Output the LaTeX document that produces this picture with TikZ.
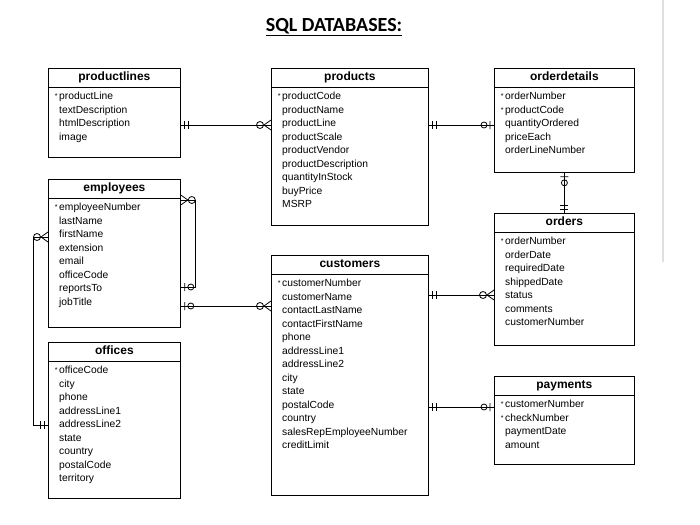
\documentclass[tikz,border=0pt]{standalone}
\usepackage{fontspec}
\setmainfont{Liberation Sans}
\newfontfamily\titlefont{Carlito}
\newcommand\pk{\llap{\raisebox{1pt}{\scriptsize*}\,}}
\tikzset{
 box/.style={draw, line width=0.8pt, inner sep=0pt},
 head/.style={font=\bfseries\fontsize{12}{13}\selectfont, inner sep=0pt},
 fields/.style={font=\fontsize{10.3}{13.5}\selectfont, align=left, inner sep=0pt},
 conn/.style={line width=0.8pt}
}
\newcommand\entity[7]{%
 \node[box, minimum width=#4pt, minimum height=#5pt, anchor=north west] (#1) at (#2,#3) {};
 \node[head, anchor=north] (#1h) at ([yshift=-4pt]#1.north) {#6};
 \draw[line width=0.8pt] ([yshift=-19pt]#1.north west) -- ([yshift=-19pt]#1.north east);
 \node[fields, anchor=north west] (#1f) at ([xshift=11pt,yshift=-24pt]#1.north west) {#7};
}
\newcommand\symOne[2]{\draw[conn,shift={(#1)},rotate=#2] (4,-4)--(4,4) (8,-4)--(8,4);}
\newcommand\symZO[2]{\draw[conn,shift={(#1)},rotate=#2] (4,-4)--(4,4) (10,0) circle (3pt);}
\newcommand\symMany[2]{\draw[conn,shift={(#1)},rotate=#2] (0,-5)--(7,0)--(0,5) (11,0) circle (3.5pt);}
\begin{document}
\begin{tikzpicture}[x=1pt,y=-1pt]
\useasboundingbox (0,0) rectangle (700,524);
\fill[white] (0,0) rectangle (700,524);
\draw[gray!25, line width=1.5pt] (663,0) -- (663,262);
\node[font=\titlefont\bfseries\fontsize{20}{22}\selectfont, inner sep=0pt] (title) at (334,27) {\underline{SQL DATABASES:}};

\entity{pl}{48}{68}{132}{89}{productlines}{\pk productLine\\textDescription\\htmlDescription\\image}
\entity{pr}{271}{68}{157}{157}{products}{\pk productCode\\productName\\productLine\\productScale\\productVendor\\productDescription\\quantityInStock\\buyPrice\\MSRP}
\entity{od}{494}{68}{140}{104}{orderdetails}{\pk orderNumber\\\pk productCode\\quantityOrdered\\priceEach\\orderLineNumber}
\entity{em}{48}{179}{132}{148}{employees}{\pk employeeNumber\\lastName\\firstName\\extension\\email\\officeCode\\reportsTo\\jobTitle}
\entity{or}{494}{213}{140}{132}{orders}{\pk orderNumber\\orderDate\\requiredDate\\shippedDate\\status\\comments\\customerNumber}
\entity{cu}{271}{255}{157}{240}{customers}{\pk customerNumber\\customerName\\contactLastName\\contactFirstName\\phone\\addressLine1\\addressLine2\\city\\state\\postalCode\\country\\salesRepEmployeeNumber\\creditLimit}
\entity{of}{48}{342}{132}{156}{offices}{\pk officeCode\\city\\phone\\addressLine1\\addressLine2\\state\\country\\postalCode\\territory}
\entity{pa}{494}{376}{140}{88}{payments}{\pk customerNumber\\\pk checkNumber\\paymentDate\\amount}

% connectors
\coordinate (c1a) at (pl.east |- 0,125); \coordinate (c1b) at (pr.west |- 0,125);
\draw[conn] (c1a) -- (c1b); \symOne{c1a}{0} \symMany{c1b}{180}
\coordinate (c2a) at (pr.east |- 0,125); \coordinate (c2b) at (od.west |- 0,125);
\draw[conn] (c2a) -- (c2b); \symOne{c2a}{0} \symZO{c2b}{180}
\coordinate (c3a) at (od.south); \coordinate (c3b) at (or.north);
\draw[conn] (c3a) -- (c3b); \symZO{c3a}{-90} \symOne{c3b}{90}
\coordinate (c4a) at (cu.east |- 0,295); \coordinate (c4b) at (or.west |- 0,295);
\draw[conn] (c4a) -- (c4b); \symOne{c4a}{0} \symMany{c4b}{180}
\coordinate (c5a) at (cu.east |- 0,407); \coordinate (c5b) at (pa.west |- 0,407);
\draw[conn] (c5a) -- (c5b); \symOne{c5a}{0} \symZO{c5b}{180}
\coordinate (c6a) at (em.east |- 0,306); \coordinate (c6b) at (cu.west |- 0,306);
\draw[conn] (c6a) -- (c6b); \symZO{c6a}{0} \symMany{c6b}{180}
\coordinate (c7a) at (em.east |- 0,200); \coordinate (c7b) at (em.east |- 0,287);
\draw[conn] (c7a) -- ++(15,0) |- (c7b); \symMany{c7a}{0} \symZO{c7b}{0}
\coordinate (c8a) at (of.west |- 0,425); \coordinate (c8b) at (em.west |- 0,237);
\draw[conn] (c8a) -- ++(-15,0) |- (c8b); \symOne{c8a}{180} \symMany{c8b}{180}
\end{tikzpicture}
\end{document}
